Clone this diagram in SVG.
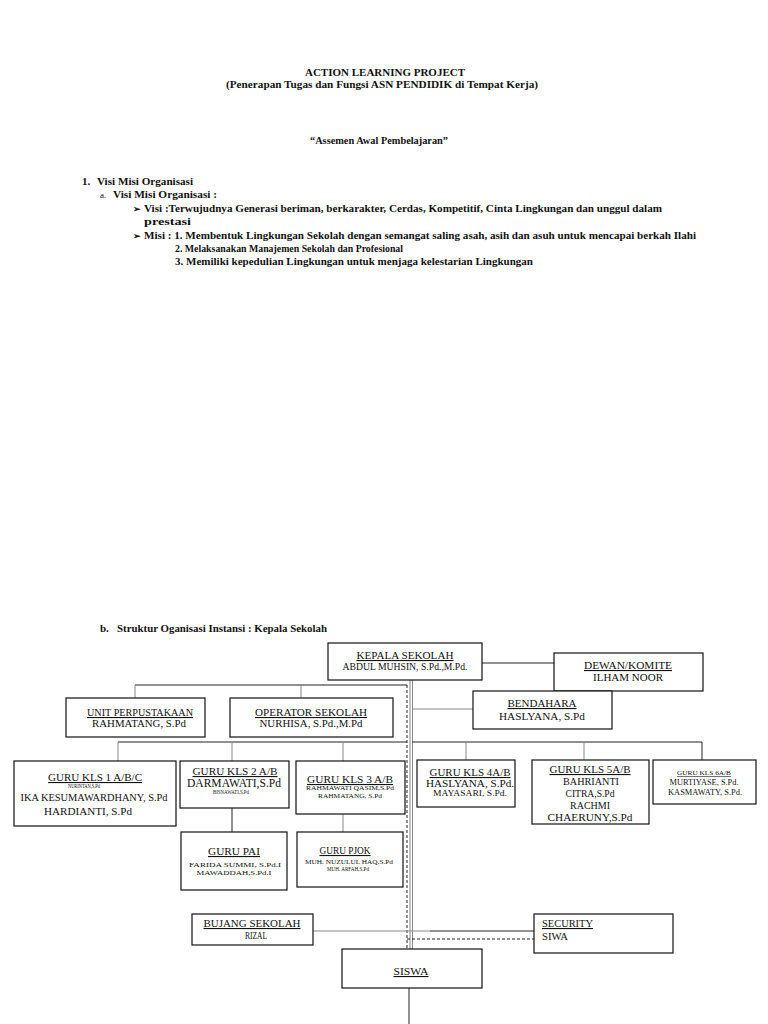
<svg xmlns="http://www.w3.org/2000/svg" width="768" height="1024" viewBox="0 0 768 1024">
<style>
text{font-family:"Liberation Serif","Times New Roman",serif;fill:#111}
.b{font-weight:bold;font-size:11px}
.c{text-anchor:middle}
.n{font-size:11px}
.u{text-decoration:underline}
.s{font-size:6px}
.m{font-size:8px}
.box{fill:#fff;stroke:#111;stroke-width:1.2}
.k{stroke:#222;stroke-width:1;fill:none}
.g{stroke:#888;stroke-width:1;fill:none}
.d{stroke:#222;stroke-width:1;stroke-dasharray:3,2;fill:none}
</style>
<rect width="768" height="1024" fill="#fff"/>
<g id="header">
<text class="b c" x="385" y="76" textLength="160" lengthAdjust="spacingAndGlyphs">ACTION LEARNING PROJECT</text>
<text class="b c" x="382" y="88" textLength="312" lengthAdjust="spacingAndGlyphs">(Penerapan Tugas dan Fungsi ASN PENDIDIK di Tempat Kerja)</text>
<text class="b c" x="379" y="144" textLength="138" lengthAdjust="spacingAndGlyphs">“Assemen Awal Pembelajaran”</text>
<text class="b" x="82" y="185">1.</text>
<text class="b" x="97" y="185" textLength="96" lengthAdjust="spacingAndGlyphs">Visi Misi Organisasi</text>
<text class="b" x="100" y="198" style="font-weight:normal;font-size:9px">a.</text>
<text class="b" x="113" y="198" textLength="104" lengthAdjust="spacingAndGlyphs">Visi Misi Organisasi :</text>
<text class="b" x="133" y="212" style="font-size:9px">➢</text>
<text class="b" x="144" y="212" textLength="518" lengthAdjust="spacingAndGlyphs">Visi :Terwujudnya Generasi beriman, berkarakter, Cerdas, Kompetitif, Cinta Lingkungan dan unggul dalam</text>
<text class="b" x="144" y="225" textLength="47" lengthAdjust="spacingAndGlyphs">prestasi</text>
<text class="b" x="133" y="239" style="font-size:9px">➢</text>
<text class="b" x="144" y="239" textLength="552" lengthAdjust="spacingAndGlyphs">Misi : 1. Membentuk Lingkungan Sekolah dengan semangat saling asah, asih dan asuh untuk mencapai berkah Ilahi</text>
<text class="b" x="175" y="252" textLength="228" lengthAdjust="spacingAndGlyphs">2. Melaksanakan Manajemen Sekolah dan Profesional</text>
<text class="b" x="175" y="265" textLength="358" lengthAdjust="spacingAndGlyphs">3. Memiliki kepedulian Lingkungan untuk menjaga kelestarian Lingkungan</text>
<text class="b" x="100" y="632">b.</text>
<text class="b" x="117" y="632" textLength="210" lengthAdjust="spacingAndGlyphs">Struktur Oganisasi Instansi : Kepala Sekolah</text>
</g>
<g id="connectors">
<line class="k" x1="482" y1="663" x2="554" y2="663"/>
<line class="g" x1="410" y1="680" x2="410" y2="949"/>
<line class="g" x1="412.5" y1="680" x2="412.5" y2="949"/>
<line class="d" x1="407" y1="685" x2="407" y2="949"/>
<line class="k" x1="135" y1="685" x2="407" y2="685"/>
<line class="g" x1="135" y1="685" x2="135" y2="698"/>
<line class="g" x1="301" y1="685" x2="301" y2="698"/>
<line class="g" x1="412" y1="709" x2="473" y2="709"/>
<line class="k" x1="118" y1="742" x2="407" y2="742"/>
<line class="g" x1="118" y1="742" x2="118" y2="761"/>
<line class="g" x1="232" y1="742" x2="232" y2="761"/>
<line class="g" x1="343" y1="742" x2="343" y2="761"/>
<line class="k" x1="412" y1="742" x2="702" y2="742"/>
<line class="g" x1="466" y1="742" x2="466" y2="760"/>
<line class="g" x1="584" y1="742" x2="584" y2="760"/>
<line class="k" x1="702" y1="742" x2="702" y2="760"/>
<line class="k" x1="232" y1="808" x2="232" y2="832"/>
<line class="g" x1="343" y1="814" x2="343" y2="832"/>
<line class="g" x1="313" y1="931" x2="430" y2="931"/>
<line class="k" x1="430" y1="931" x2="534" y2="931"/>
<line class="d" x1="407" y1="939" x2="534" y2="939"/>
<line class="k" x1="409" y1="988" x2="409" y2="1024"/>
</g>
<g id="kepala">
<rect class="box" x="328" y="643" width="154" height="37"/>
<text class="n c u" x="405" y="659" textLength="97" lengthAdjust="spacingAndGlyphs">KEPALA SEKOLAH</text>
<text class="n c" x="405" y="670" textLength="125" lengthAdjust="spacingAndGlyphs">ABDUL MUHSIN, S.Pd.,M.Pd.</text>
</g>
<g id="dewan">
<rect class="box" x="554" y="653" width="149" height="38"/>
<text class="n c u" x="628" y="669" textLength="88" lengthAdjust="spacingAndGlyphs">DEWAN/KOMITE</text>
<text class="n c" x="628" y="681" textLength="70" lengthAdjust="spacingAndGlyphs">ILHAM NOOR</text>
</g>
<g id="bendahara">
<rect class="box" x="473" y="691" width="139" height="38"/>
<text class="n c u" x="542" y="707" textLength="69" lengthAdjust="spacingAndGlyphs">BENDAHARA</text>
<text class="n c" x="542" y="720" textLength="86" lengthAdjust="spacingAndGlyphs">HASLYANA, S.Pd</text>
</g>
<g id="perpustakaan">
<rect class="box" x="66" y="698" width="139" height="39"/>
<text class="n c u" x="140" y="716" textLength="106" lengthAdjust="spacingAndGlyphs">UNIT PERPUSTAKAAN</text>
<text class="n c" x="139" y="727" textLength="94" lengthAdjust="spacingAndGlyphs">RAHMATANG, S.Pd</text>
</g>
<g id="operator">
<rect class="box" x="230" y="698" width="163" height="39"/>
<text class="n c u" x="311" y="716" textLength="112" lengthAdjust="spacingAndGlyphs">OPERATOR SEKOLAH</text>
<text class="n c" x="311" y="727" textLength="103" lengthAdjust="spacingAndGlyphs">NURHISA, S.Pd.,M.Pd</text>
</g>
<g id="kls1">
<rect class="box" x="14" y="761" width="162" height="65"/>
<text class="n c u" x="95" y="781" textLength="94" lengthAdjust="spacingAndGlyphs">GURU KLS 1 A/B/C</text>
<text class="s c" x="84" y="788" textLength="32" lengthAdjust="spacingAndGlyphs">NURINTAN,S.Pd</text>
<text class="n c" x="94" y="801" textLength="147" lengthAdjust="spacingAndGlyphs">IKA KESUMAWARDHANY, S.Pd</text>
<text class="n c" x="88" y="815" textLength="88" lengthAdjust="spacingAndGlyphs">HARDIANTI, S.Pd</text>
</g>
<g id="kls2">
<rect class="box" x="180" y="761" width="109" height="47"/>
<text class="n c u" x="235" y="775" textLength="85" lengthAdjust="spacingAndGlyphs">GURU KLS 2 A/B</text>
<text class="c" x="234" y="787" style="font-size:13px" textLength="94" lengthAdjust="spacingAndGlyphs">DARMAWATI,S.Pd</text>
<text class="s c" x="231" y="794" textLength="36" lengthAdjust="spacingAndGlyphs">BISNAWATI,S.Pd</text>
</g>
<g id="kls3">
<rect class="box" x="296" y="761" width="109" height="53"/>
<text class="n c u" x="350" y="783" textLength="86" lengthAdjust="spacingAndGlyphs">GURU KLS 3 A/B</text>
<text class="s c" x="350" y="790" textLength="88" lengthAdjust="spacingAndGlyphs">RAHMAWATI QASIM,S.Pd</text>
<text class="s c" x="350" y="798" textLength="64" lengthAdjust="spacingAndGlyphs">RAHMATANG, S.Pd</text>
</g>
<g id="kls4">
<rect class="box" x="417" y="760" width="98" height="47"/>
<text class="n c u" x="470" y="776" textLength="81" lengthAdjust="spacingAndGlyphs">GURU KLS 4A/B</text>
<text class="n c" x="470" y="787" textLength="88" lengthAdjust="spacingAndGlyphs">HASLYANA, S.Pd.</text>
<text class="m c" x="470" y="796" textLength="74" lengthAdjust="spacingAndGlyphs">MAYASARI, S.Pd.</text>
</g>
<g id="kls5">
<rect class="box" x="532" y="760" width="117" height="64"/>
<text class="n c u" x="590" y="773" textLength="81" lengthAdjust="spacingAndGlyphs">GURU KLS 5A/B</text>
<text class="n c" x="591" y="785" textLength="56" lengthAdjust="spacingAndGlyphs">BAHRIANTI</text>
<text class="n c" x="590" y="797" textLength="49" lengthAdjust="spacingAndGlyphs">CITRA,S.Pd</text>
<text class="n c" x="590" y="809" textLength="40" lengthAdjust="spacingAndGlyphs">RACHMI</text>
<text class="n c" x="590" y="821" textLength="85" lengthAdjust="spacingAndGlyphs">CHAERUNY,S.Pd</text>
</g>
<g id="kls6">
<rect class="box" x="653" y="760" width="103" height="44"/>
<text class="s c u" x="704" y="775" textLength="54" lengthAdjust="spacingAndGlyphs">GURU KLS 6A/B</text>
<text class="m c" x="704" y="785" textLength="69" lengthAdjust="spacingAndGlyphs">MURTIYASE, S.Pd.</text>
<text class="m c" x="705" y="795" textLength="74" lengthAdjust="spacingAndGlyphs">KASMAWATY, S.Pd.</text>
</g>
<g id="pai">
<rect class="box" x="181" y="832" width="106" height="58"/>
<text class="n c u" x="234" y="855" textLength="52" lengthAdjust="spacingAndGlyphs">GURU PAI</text>
<text class="c" x="235" y="867" style="font-size:7px" textLength="92" lengthAdjust="spacingAndGlyphs">FARIDA SUMMI, S.Pd.I</text>
<text class="c" x="234" y="875" style="font-size:7px" textLength="75" lengthAdjust="spacingAndGlyphs">MAWADDAH,S.Pd.I</text>
</g>
<g id="pjok">
<rect class="box" x="297" y="832" width="106" height="55"/>
<text class="n c u" x="345" y="854" textLength="51" lengthAdjust="spacingAndGlyphs">GURU PJOK</text>
<text class="s c" x="349" y="864" textLength="88" lengthAdjust="spacingAndGlyphs">MUH. NUZULUL HAQ,S.Pd</text>
<text class="s c" x="348" y="871" textLength="42" lengthAdjust="spacingAndGlyphs">MUH. ARFAH,S.Pd</text>
</g>
<g id="bujang">
<rect class="box" x="192" y="914" width="121" height="31"/>
<text class="n c u" x="252" y="927" textLength="97" lengthAdjust="spacingAndGlyphs">BUJANG SEKOLAH</text>
<text class="n c" x="256" y="939" textLength="22" lengthAdjust="spacingAndGlyphs">RIZAL</text>
</g>
<g id="security">
<rect class="box" x="534" y="914" width="139" height="39"/>
<text class="n u" x="542" y="927" textLength="51" lengthAdjust="spacingAndGlyphs">SECURITY</text>
<text class="n" x="542" y="940" textLength="26" lengthAdjust="spacingAndGlyphs">SIWA</text>
</g>
<g id="siswa">
<rect class="box" x="342" y="949" width="140" height="39"/>
<text class="n c u" x="411" y="975" textLength="35" lengthAdjust="spacingAndGlyphs">SISWA</text>
</g>
</svg>
